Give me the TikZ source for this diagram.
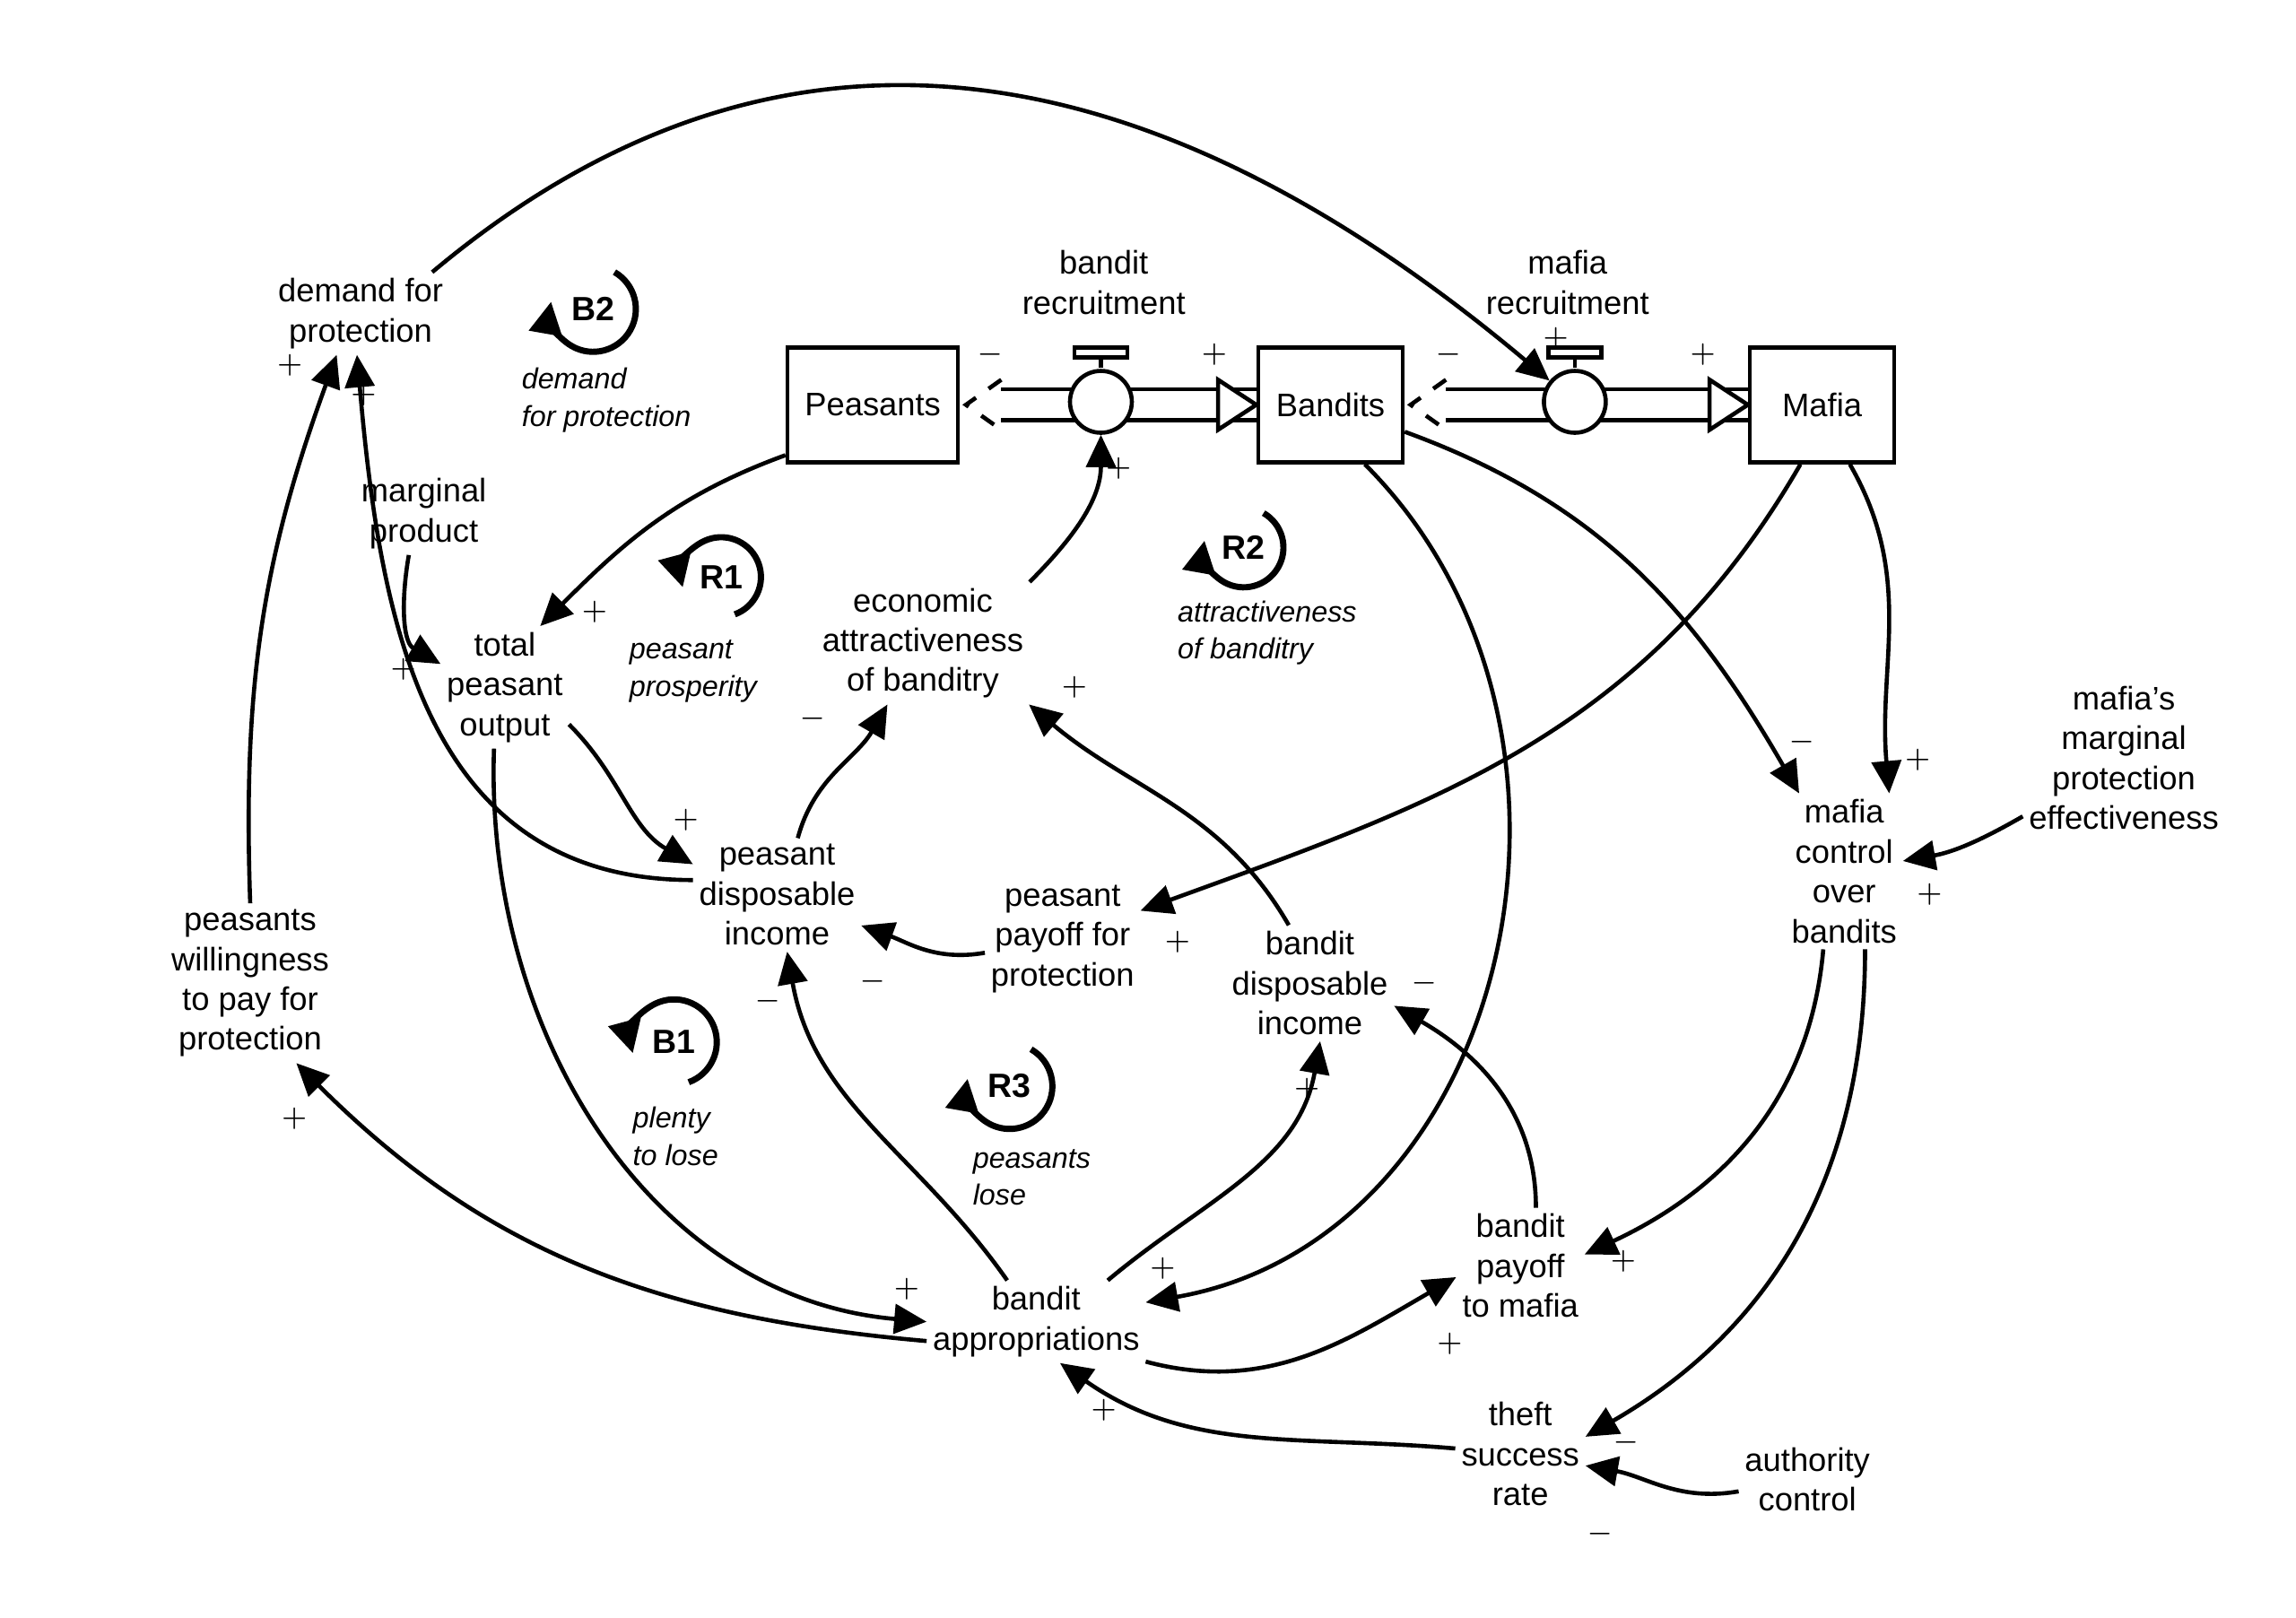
\documentclass[tikz,border=0pt]{standalone}
\usepackage{fontspec}
\setmainfont{Liberation Sans}
\usetikzlibrary{arrows.meta}
\tikzset{
  var/.style={align=center,inner sep=1pt,font=\fontsize{6.3}{7.7}\selectfont},
  stock/.style={draw,thick,minimum width=0.98cm,minimum height=0.78cm,font=\fontsize{6.3}{7.7}\selectfont},
  link/.style={thick,-{Triangle[length=2.2mm,width=2mm]}},
  pol/.style={font=\fontsize{5.5}{6}\selectfont,inner sep=0pt},
  loopa/.style={very thick,-{Triangle[length=2.2mm,width=2.2mm]}},
  loopname/.style={font=\fontsize{6.5}{7}\selectfont\bfseries},
  loopnote/.style={align=left,font=\fontsize{5.6}{7.2}\selectfont\itshape}
}
\begin{document}
\begin{tikzpicture}[x=0.01cm,y=0.01cm]
\useasboundingbox (0,0) rectangle (1560,-1099);

% stocks and valves
\node[stock] (pea) at (593,-275) {Peasants};
\node[stock] (ban) at (904,-275) {Bandits};
\node[stock] (maf) at (1238,-275) {Mafia};
\foreach \a/\b/\v in {pea/ban/748,ban/maf/1070}{
  \draw[thick] ([yshift=3pt]\a.east) ++(28,0) -- ([yshift=3pt]\b.west) ++(-26,0);
  \draw[thick] ([yshift=-3pt]\a.east) ++(28,0) -- ([yshift=-3pt]\b.west) ++(-26,0);
  \draw[thick,fill=white] (\b.west) ++(-26,17) -- (\b.west) -- ++(-26,-17) -- cycle;
  \draw[thick,dashed] (\a.east) ++(28,17) -- ++(-24,-17) -- ++(24,-17);
  \draw[thick] (\v,-250) -- (\v,-240);
  \draw[thick,fill=white] (\v-18,-236) rectangle (\v+18,-243);
  \node[circle,draw,thick,fill=white,minimum size=0.42cm] (v\v) at (\v,-273) {};
}
\node[var] (brc) at (750,-192) {bandit\\recruitment};
\node[var] (mrc) at (1065,-192) {mafia\\recruitment};

% variables
\node[var] (dem) at (245,-213) {demand for\\protection};
\node[var] (mp) at (288,-349) {marginal\\product};
\node[var] (tpo) at (343,-467) {total\\peasant\\output};
\node[var] (eab) at (627,-437) {economic\\attractiveness\\of banditry};
\node[var] (mmp) at (1443,-515) {mafia's\\marginal\\protection\\effectiveness};
\node[var] (mcb) at (1253,-592) {mafia\\control\\over\\bandits};
\node[var] (pdi) at (528,-608) {peasant\\disposable\\income};
\node[var] (ppp) at (722,-638) {peasant\\payoff for\\protection};
\node[var] (bdi) at (890,-668) {bandit\\disposable\\income};
\node[var] (pwp) at (170,-668) {peasants\\willingness\\to pay for\\protection};
\node[var] (bpm) at (1033,-860) {bandit\\payoff\\to mafia};
\node[var] (bap) at (704,-898) {bandit\\appropriations};
\node[var] (tsr) at (1033,-988) {theft\\success\\rate};
\node[var] (auc) at (1228,-1005) {authority\\control};

% links
\draw[link] (dem.30) to[out=40,in=140,looseness=1.1] (v1070.140);
\draw[link] (pwp.north) to[out=92,in=-110] (dem.-120);
\draw[link] (pdi.170) to[out=180,in=-85,looseness=1.1] (dem.-95);
\draw[link] (pea.-150) to[out=-160,in=45] (tpo.60);
\draw[link] (mp.-110) to[out=-100,in=150] (tpo.160);
\draw[link] (tpo.-30) to[out=-45,in=150] (pdi.160);
\draw[link] (tpo.-100) to[out=-92,in=175] (bap.west);
\draw[link] (pdi.70) to[out=75,in=-120] (eab.-120);
\draw[link] (eab.north east) to[out=45,in=-90] (v748.south);
\draw[link] (bdi.110) to[out=120,in=-40] (eab.-30);
\draw[link] (maf.-110) to[out=-120,in=20] (ppp.20);
\draw[link] (ppp.190) to[out=190,in=-20] (pdi.-20);
\draw[link] (bap.125) to[out=125,in=-80] (pdi.-80);
\draw[link] (bap.30) to[out=40,in=-100] (bdi.-80);
\draw[link] (ban.-60) to[out=-45,in=10,looseness=1.1] (bap.10);
\draw[link] (ban.-20) to[out=-20,in=120] (mcb.120);
\draw[link] (maf.-65) to[out=-60,in=95] (mcb.60);
\draw[link] (mmp.-150) to[out=-150,in=10] (mcb.10);
\draw[link] (mcb.-105) to[out=-95,in=25] (bpm.10);
\draw[link] (mcb.-75) to[out=-90,in=30] (tsr.15);
\draw[link] (bpm.75) to[out=90,in=-30] (bdi.-15);
\draw[link] (bap.-20) to[out=-15,in=-150] (bpm.-170);
\draw[link] (tsr.175) to[out=175,in=-35] (bap.-60);
\draw[link] (auc.-170) to[out=190,in=-10] (tsr.-10);
\draw[link] (bap.-170) to[out=175,in=-45] (pwp.-60);

% polarities
\foreach \x/\y/\s in {197/248/+,247/268/+,1057/230/+,673/241/-,825/241/+,984/241/-,1157/241/+,
  760/318/+,404/416/+,274/455/+,466/557/+,552/488/-,730/467/+,800/640/+,593/667/-,522/680/-,
  888/740/+,790/862/+,616/876/+,1224/504/-,1303/516/+,1311/608/+,1103/857/+,1105/980/-,
  968/668/-,985/913/+,750/958/+,1087/1042/-,200/760/+}
  \node[pol] at (\x,-\y) {$\s$};

% loops
\draw[loopa] (403,-210) ++(60:0.29cm) arc (60:-190:0.29cm);
\node[loopname] at (403,-210) {B2};
\node[loopnote] at (412,-272) {demand\\for protection};
\draw[loopa] (490,-392) ++(-70:0.27cm) arc (-70:195:0.27cm);
\node[loopname] at (490,-392) {R1};
\node[loopnote] at (471,-456) {peasant\\prosperity};
\draw[loopa] (845,-372) ++(60:0.27cm) arc (60:-190:0.27cm);
\node[loopname] at (845,-372) {R2};
\node[loopnote] at (861,-430) {attractiveness\\of banditry};
\draw[loopa] (458,-708) ++(-70:0.29cm) arc (-70:195:0.29cm);
\node[loopname] at (458,-708) {B1};
\node[loopnote] at (459,-772) {plenty\\to lose};
\draw[loopa] (686,-738) ++(60:0.29cm) arc (60:-190:0.29cm);
\node[loopname] at (686,-738) {R3};
\node[loopnote] at (701,-800) {peasants\\lose};
\end{tikzpicture}
\end{document}
